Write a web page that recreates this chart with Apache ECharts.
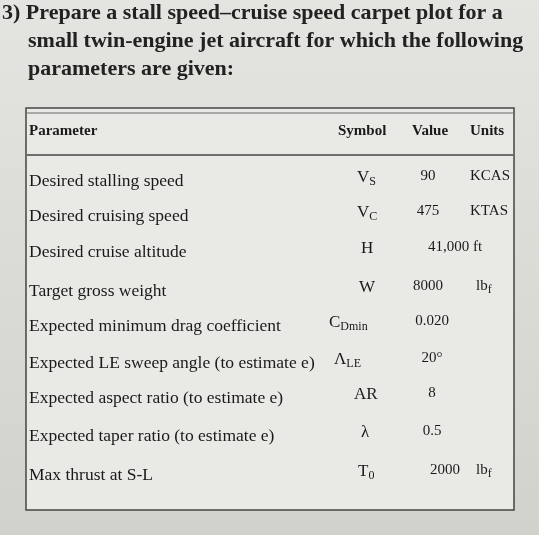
<!DOCTYPE html>
<html><head><meta charset="utf-8">
<script src="https://cdn.jsdelivr.net/npm/echarts@6/dist/echarts.min.js"></script>
<style>html,body{margin:0;padding:0;background:#dcdcd8}#c{width:539px;height:535px}</style>
</head><body><div id="c"></div>
<script>
const titleLines = ["3) Prepare a stall speed\u2013cruise speed carpet plot for a","small twin-engine jet aircraft for which the following","parameters are given:"];
const headers = ["Parameter","Symbol","Value","Units"];
const parameters = ["Desired stalling speed","Desired cruising speed","Desired cruise altitude","Target gross weight","Expected minimum drag coefficient","Expected LE sweep angle (to estimate e)","Expected aspect ratio (to estimate e)","Expected taper ratio (to estimate e)","Max thrust at S-L"];
const symbols = ["V{s|S}","V{s|C}","H","W","C{s|Dmin}","\u039B{s|LE}","AR","\u03BB","T{s|0}"];
const values = ["90","475","41,000 ft","8000","0.020","20\u00B0","8","0.5","2000"];
const units = ["KCAS","KTAS","","lb{s|f}","","","","","lb{s|f}"];

const chart = echarts.init(document.getElementById('c'));
const F = "'Liberation Serif','DejaVu Serif',serif";
const col = '#1a1a1a';
const g = [];
g.push({type:'rect',shape:{x:0,y:0,width:539,height:535},style:{fill:new echarts.graphic.LinearGradient(0,0,0,1,[{offset:0,color:'#e4e4e0'},{offset:1,color:'#d2d2cd'}])}});
titleLines.forEach((t,i)=>g.push({type:'text',x:i?28:2,y:2+i*28,style:{text:t,font:"bold 22px "+F,fill:'#222'}}));
g.push({type:'rect',shape:{x:26,y:108,width:488,height:402},style:{fill:'#e9e9e6',stroke:'#444',lineWidth:1.5}});
g.push({type:'line',shape:{x1:27,y1:113,x2:513,y2:113},style:{stroke:'#666',lineWidth:1}});
g.push({type:'line',shape:{x1:27,y1:155,x2:513,y2:155},style:{stroke:'#444',lineWidth:1.5}});
const hx=[29,338,412,470], hy=131;
headers.forEach((h,i)=>g.push({type:'text',x:hx[i],y:hy,style:{text:h,font:"bold 15px "+F,fill:col,verticalAlign:'middle'}}));
const rowY=[181,216,252,291,326,363,398,436,475];
const rich={s:{fontSize:12,fontFamily:F,fill:col,padding:[8,0,0,0]}};
parameters.forEach((p,i)=>{
  const y=rowY[i];
  g.push({type:'text',x:29,y:y,style:{text:p,font:"17.5px "+F,fill:col,verticalAlign:'middle'}});
  g.push({type:'text',x:[357,357,361,359,329,334,354,361,358][i],y:y-3,style:{text:symbols[i],font:"17px "+F,fill:col,verticalAlign:'middle',rich:rich}});
  g.push({type:'text',x:[428,428,455,428,432,432,432,432,445][i],y:y-5,style:{text:values[i],font:"15px "+F,fill:col,verticalAlign:'middle',align:'center'}});
  if(units[i]) g.push({type:'text',x:[470,470,0,476,0,0,0,0,476][i],y:y-5,style:{text:units[i],font:"15px "+F,fill:col,verticalAlign:'middle',rich:rich}});
});
chart.setOption({animation:false,graphic:{elements:g}});
</script></body></html>
